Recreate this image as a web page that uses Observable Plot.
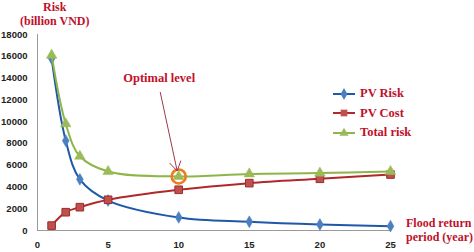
<!DOCTYPE html>
<html>
<head>
<meta charset="utf-8">
<script src="https://cdn.jsdelivr.net/npm/d3@7"></script>
<script src="https://cdn.jsdelivr.net/npm/@observablehq/plot@0.6"></script>
<style>
  body { margin: 0; background: #fff; }
  #wrap { position: relative; width: 474px; height: 252px; overflow: hidden; }
  .ttl { position: absolute; font-family: "Liberation Serif", "DejaVu Serif", serif; font-weight: bold; font-size: 12px; color: #c0102a; line-height: 14px; white-space: nowrap; }
  .leg { position: absolute; left: 333px; font-family: "Liberation Serif", serif; font-weight: bold; font-size: 12.5px; color: #c0102a; display: flex; align-items: center; white-space: nowrap; }
  .leg svg { margin-right: 5px; }
</style>
</head>
<body>
<div id="wrap"></div>
<script>
// Flood return periods (years)
const periods = [1, 2, 3, 5, 10, 15, 20, 25];
// Series values (billion VND)
const pvRisk    = [15800, 8250, 4700, 2750, 1200, 800, 550, 400];
const pvCost    = [450, 1680, 2140, 2820, 3740, 4350, 4750, 5140];
const totalRisk = [16100, 9800, 6820, 5420, 4960, 5200, 5270, 5420];
// Tick labels
const yTicks = [0, 2000, 4000, 6000, 8000, 10000, 12000, 14000, 16000, 18000];
const xTicks = [0, 5, 10, 15, 20, 25];
// Series names
const seriesNames = ["PV Risk", "PV Cost", "Total risk"];
const optimalPeriod = 10;
const optimalLabel = "Optimal level";

const lineColors = ["#1f58a8", "#b0282c", "#8db548"];
const markColors = ["#4a7fc0", "#c0504d", "#9bbb59"];
const symbols = ["diamond", "square", "triangle"];
const sizes = [3.6, 4.3, 3.9];

const seriesValues = [pvRisk, pvCost, totalRisk];
const rows = seriesValues.flatMap((vals, s) =>
  periods.map((p, i) => ({series: seriesNames[s], s, period: p, value: vals[i]})));

const optIdx = periods.indexOf(optimalPeriod);
const optimal = [{period: optimalPeriod, value: totalRisk[optIdx]}];

const marks = [
  Plot.ruleY([0], {stroke: "#9a9a9a", strokeWidth: 1}),
  Plot.ruleX([0], {stroke: "#9a9a9a", strokeWidth: 1}),
  Plot.axisY({ticks: yTicks, tickSize: 4, tickPadding: 6, tickFormat: d => String(d),
    fontSize: 9.5, fontWeight: "bold", fill: "#222", stroke: "none", label: null}),
  Plot.axisX({ticks: xTicks, tickSize: 0, tickPadding: 11, fontSize: 9.5, fontWeight: "bold", fill: "#222", label: null})
];
[0, 1, 2].forEach(s => {
  const data = rows.filter(d => d.s === s);
  marks.push(Plot.line(data, {x: "period", y: "value", stroke: lineColors[s], strokeWidth: 2, curve: "catmull-rom"}));
  marks.push(Plot.dot(data, {x: "period", y: "value", symbol: symbols[s], r: sizes[s], fill: markColors[s],
    stroke: s === 1 ? "#9b2d2a" : markColors[s], strokeWidth: s === 1 ? 1 : 0.5}));
});
marks.push(Plot.dot(optimal, {x: "period", y: "value", r: 7, stroke: "#f07a1e", strokeWidth: 2.6, fill: "none"}));
// annotation arrow + label anchored to the optimal point
marks.push((index, scales) => {
  const px = scales.x(optimal[0].period), py = scales.y(optimal[0].value);
  const g = d3.create("svg:g");
  const tipX = px - 1, tipY = py - 5, startX = px - 18, startY = py - 84;
  g.append("line").attr("x1", startX).attr("y1", startY).attr("x2", tipX).attr("y2", tipY)
    .attr("stroke", "#9b3a4a").attr("stroke-width", 1);
  const ang = Math.atan2(tipY - startY, tipX - startX);
  [0.55, -0.55].forEach(a => {
    g.append("line").attr("x1", tipX).attr("y1", tipY)
      .attr("x2", tipX - 11 * Math.cos(ang + a)).attr("y2", tipY - 11 * Math.sin(ang + a))
      .attr("stroke", "#9b3a4a").attr("stroke-width", 1);
  });
  g.append("text").attr("x", px - 19).attr("y", py - 94).attr("text-anchor", "middle")
    .attr("font-family", "Liberation Serif, serif").attr("font-weight", "bold").attr("font-size", 12.5)
    .attr("fill", "#c0102a").text(optimalLabel);
  return g.node();
});

const chart = Plot.plot({
  width: 474, height: 252,
  marginLeft: 37, marginRight: 84, marginTop: 34, marginBottom: 22,
  x: {domain: [0, 25]},
  y: {domain: [0, 18000]},
  style: {fontFamily: "Liberation Sans, Arial, sans-serif", background: "white"},
  marks
});
const wrap = document.getElementById("wrap");
wrap.appendChild(chart);

function addText(html, left, top, align) {
  const d = document.createElement("div");
  d.className = "ttl"; d.innerHTML = html;
  d.style.left = left + "px"; d.style.top = top + "px"; d.style.textAlign = align || "left";
  wrap.appendChild(d);
}
addText("Risk<br>(billion VND)", 20, 0, "center");
addText("Flood return<br>period (year)", 406, 216, "left");

const shapes = [d3.symbolDiamond, d3.symbolSquare, d3.symbolTriangle];
seriesNames.forEach((name, s) => {
  const d = document.createElement("div");
  d.className = "leg";
  d.style.top = (86 + s * 19.5) + "px";
  const area = [40, 45, 36][s];
  d.innerHTML = `<svg width="22" height="12"><line x1="0" x2="22" y1="6" y2="6" stroke="${lineColors[s]}" stroke-width="2"/>` +
    `<path transform="translate(11,6)" d="${d3.symbol(shapes[s], area)()}" fill="${markColors[s]}"/></svg>${name}`;
  wrap.appendChild(d);
});
</script>
</body>
</html>
